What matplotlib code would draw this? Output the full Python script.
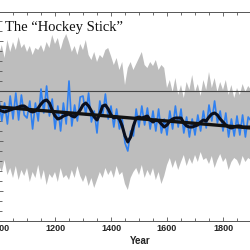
"""Hockey stick reconstruction excerpt, 1000-1900."""

import matplotlib

matplotlib.use("Agg")
import matplotlib.pyplot as plt
import numpy as np
from matplotlib.ticker import MultipleLocator, NullFormatter

years = np.arange(1000, 1901, 10)

# spread of the reconstructions (grey band), upper / lower edge
band_upper = [
    0.36, 0.46, 0.33, 0.51, 0.39, 0.49, 0.41, 0.54, 0.43, 0.47,
    0.39, 0.45, 0.36, 0.43, 0.41, 0.46, 0.39, 0.49, 0.43, 0.56,
    0.47, 0.53, 0.41, 0.51, 0.57, 0.49, 0.39, 0.45, 0.36, 0.47,
    0.41, 0.51, 0.36, 0.31, 0.39, 0.29, 0.36, 0.33, 0.41, 0.43,
    0.35, 0.26, 0.33, 0.21, 0.29, 0.06, 0.23, 0.29, 0.21, 0.27,
    0.33, 0.39, 0.26, 0.23, 0.29, 0.25, 0.31, 0.21, 0.26, 0.23,
    0.03, 0.11, -0.01, 0.13, -0.04, 0.06, -0.07, 0.09, 0.01, 0.16,
    -0.01, 0.07, -0.05, 0.11, 0.01, 0.19, 0.03, 0.13, -0.01, 0.09,
    0.01, 0.11, -0.04, 0.06, -0.07, 0.03, -0.04, 0.07, -0.01, 0.05,
    0.01,
]
band_lower = [
    -0.74, -0.81, -0.69, -0.84, -0.77, -0.87, -0.75, -0.89, -0.79, -0.85,
    -0.77, -0.91, -0.81, -0.87, -0.74, -0.89, -0.79, -0.94, -0.83, -0.87,
    -0.81, -0.91, -0.77, -0.87, -0.84, -0.89, -0.79, -0.87, -0.75, -0.85,
    -0.91, -0.84, -0.95, -0.87, -0.97, -0.89, -0.81, -0.87, -0.77, -0.84,
    -0.79, -0.87, -0.75, -0.84, -0.81, -0.93, -0.99, -0.87, -0.81, -0.77,
    -0.84, -0.74, -0.87, -0.79, -0.85, -0.77, -0.89, -0.81, -0.93, -0.85,
    -0.74, -0.67, -0.77, -0.69, -0.79, -0.71, -0.64, -0.75, -0.67, -0.73,
    -0.64, -0.71, -0.61, -0.69, -0.67, -0.73, -0.65, -0.77, -0.69, -0.63,
    -0.71, -0.67, -0.79, -0.71, -0.67, -0.69, -0.75, -0.65, -0.71, -0.67,
    -0.69,
]

# blue reconstruction
recon = [
    -0.08, -0.30, -0.12, -0.33, -0.05, -0.28, -0.02, -0.29, -0.04, -0.24,
    -0.27, -0.10, -0.38, -0.12, -0.30, 0.02, -0.22, 0.05, -0.25, -0.08,
    -0.38, -0.15, -0.40, -0.12, -0.33, 0.10, -0.35, -0.14, -0.30, -0.06,
    -0.05, -0.24, -0.02, -0.31, -0.20, -0.42, -0.10, -0.25, -0.03, -0.28,
    -0.15, -0.36, -0.18, -0.38, -0.28, -0.52, -0.60, -0.40, -0.45, -0.18,
    -0.36, -0.15, -0.34, -0.17, -0.38, -0.20, -0.40, -0.18, -0.42, -0.28,
    -0.44, -0.20, -0.38, -0.15, -0.36, -0.18, -0.42, -0.26, -0.46, -0.28,
    -0.44, -0.24, -0.40, -0.20, -0.37, -0.14, -0.30, -0.10, -0.32, -0.20,
    -0.40, -0.22, -0.46, -0.28, -0.45, -0.25, -0.44, -0.24, -0.46, -0.26,
    -0.30,
]

# smoothed reconstruction (black)
smooth = [
    -0.19, -0.20, -0.21, -0.20, -0.19, -0.18, -0.17, -0.16, -0.15, -0.15,
    -0.17, -0.20, -0.21, -0.20, -0.17, -0.13, -0.10, -0.09, -0.12, -0.19,
    -0.25, -0.28, -0.27, -0.25, -0.24, -0.23, -0.25, -0.26, -0.23, -0.19,
    -0.14, -0.12, -0.15, -0.20, -0.26, -0.29, -0.23, -0.15, -0.14, -0.18,
    -0.24, -0.27, -0.26, -0.28, -0.35, -0.45, -0.51, -0.46, -0.35, -0.27,
    -0.26, -0.27, -0.26, -0.25, -0.29, -0.31, -0.29, -0.30, -0.33, -0.36,
    -0.34, -0.30, -0.28, -0.27, -0.27, -0.27, -0.32, -0.35, -0.36, -0.36,
    -0.35, -0.34, -0.31, -0.29, -0.30, -0.26, -0.23, -0.22, -0.24, -0.28,
    -0.31, -0.34, -0.36, -0.37, -0.36, -0.35, -0.35, -0.36, -0.36, -0.36,
    -0.36,
]

trend_years = [1000, 1900]
trend_vals = [-0.16, -0.37]

fig = plt.figure(figsize=(2.5, 2.5), dpi=100)
ax = fig.add_axes([-0.004, 0.116, 1.12, 0.836])

ax.fill_between(years, band_lower, band_upper, color="#bdbdbd", lw=0)
ax.axhline(0, color="#444444", lw=0.8)
ax.plot(years, recon, color="#2f80f0", lw=1.2)
ax.plot(years, smooth, color="#0a0f1e", lw=2.2)
ax.plot(trend_years, trend_vals, color="#111111", lw=2.4)

ax.set_xlim(1000, 2000)
ax.set_ylim(-1.30, 0.79)
ax.xaxis.set_major_locator(MultipleLocator(200))
ax.xaxis.set_minor_locator(MultipleLocator(50))
ax.yaxis.set_major_locator(MultipleLocator(0.5))
ax.yaxis.set_minor_locator(MultipleLocator(0.1))
ax.yaxis.set_major_formatter(NullFormatter())
ax.tick_params(which="both", direction="in", top=True, right=True,
               width=0.6, colors="#555555")
ax.tick_params(which="major", length=3)
ax.tick_params(which="minor", length=2)
ax.tick_params(axis="x", pad=2, labelsize=6.5, labelcolor="#222222")
for lbl in ax.get_xticklabels():
    lbl.set_family("Liberation Sans")
    lbl.set_weight("bold")
for side in ax.spines.values():
    side.set_color("#555555")
    side.set_linewidth(0.7)

ax.set_xlabel("Year", family="Liberation Sans", weight="bold", fontsize=7,
              color="#222222")
ax.xaxis.set_label_coords((140 + 1) / 280, -0.07)

fig.text(0.02, 0.892, "The \u201cHockey Stick\u201d", family="Liberation Serif",
         fontsize=10.5, va="center", ha="left", color="#111111")

fig.savefig("out.png", dpi=100)
